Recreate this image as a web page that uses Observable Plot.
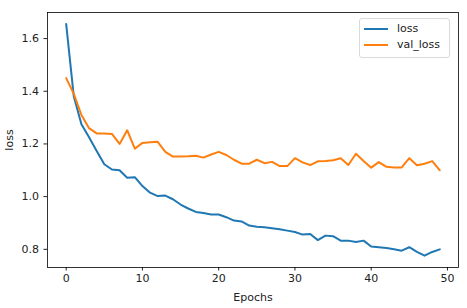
<!DOCTYPE html>
<html>
<head>
<meta charset="utf-8">
<script src="https://cdn.jsdelivr.net/npm/d3@7"></script>
<script src="https://cdn.jsdelivr.net/npm/@observablehq/plot@0.6"></script>
<style>
  html, body { margin: 0; padding: 0; background: #fff; }
  #wrap { position: relative; width: 467px; height: 308px; }
  #legend {
    position: absolute; left: 359px; top: 18px; width: 91px; height: 40px;
    box-sizing: border-box; border: 1px solid #d9d9d9; border-radius: 3px;
    background: rgba(255,255,255,0.8);
    font: 11px "DejaVu Sans", sans-serif; color: #222;
  }
  .item { position: absolute; left: 4px; display: flex; align-items: center; }
  .swatch { width: 24px; height: 0; border-top: 2px solid; margin-right: 9px; }
</style>
</head>
<body>
<div id="wrap"></div>
<script>
const epochs = d3.range(50);
const loss = [1.655, 1.38, 1.275, 1.225, 1.173, 1.123, 1.103, 1.10, 1.072, 1.074,
  1.04, 1.015, 1.002, 1.004, 0.99, 0.97, 0.955, 0.942, 0.938, 0.932,
  0.932, 0.922, 0.909, 0.906, 0.89, 0.886, 0.884, 0.88, 0.876, 0.871,
  0.866, 0.856, 0.858, 0.835, 0.852, 0.85, 0.833, 0.833, 0.828, 0.833,
  0.811, 0.808, 0.805, 0.80, 0.795, 0.808, 0.79, 0.776, 0.79, 0.80];
const valLoss = [1.45, 1.39, 1.31, 1.26, 1.24, 1.24, 1.238, 1.20, 1.252, 1.182,
  1.204, 1.206, 1.208, 1.17, 1.152, 1.152, 1.153, 1.155, 1.148, 1.16,
  1.17, 1.158, 1.14, 1.125, 1.125, 1.14, 1.127, 1.132, 1.116, 1.116,
  1.146, 1.13, 1.12, 1.134, 1.135, 1.138, 1.146, 1.12, 1.163, 1.135,
  1.11, 1.131, 1.113, 1.111, 1.111, 1.146, 1.119, 1.125, 1.135, 1.10];
const seriesNames = ["loss", "val_loss"];
const seriesColors = ["#1f77b4", "#ff7f0e"];
const xTicks = [0, 10, 20, 30, 40, 50];
const yTicks = [0.8, 1.0, 1.2, 1.4, 1.6];

const rows = [];
epochs.forEach((e, i) => {
  rows.push({epoch: e, value: loss[i], series: seriesNames[0]});
  rows.push({epoch: e, value: valLoss[i], series: seriesNames[1]});
});

const chart = Plot.plot({
  width: 467,
  height: 308,
  marginLeft: 47,
  marginRight: 9,
  marginTop: 12,
  marginBottom: 41,
  style: {fontFamily: "DejaVu Sans, sans-serif", fontSize: "11px", color: "#222", background: "#fff"},
  x: {domain: [-2.45, 51.45], ticks: xTicks, tickSize: 3.5, tickPadding: 3, label: "Epochs", labelArrow: "none", labelAnchor: "center", labelOffset: 33, tickFormat: d => String(d)},
  y: {domain: [0.731, 1.699], ticks: yTicks, tickSize: 3.5, tickPadding: 5, label: "loss", labelArrow: "none", labelAnchor: "center", labelOffset: 42, tickFormat: d3.format(".1f")},
  color: {domain: seriesNames, range: seriesColors},
  marks: [
    Plot.line(rows, {x: "epoch", y: "value", stroke: "series", strokeWidth: 2}),
    Plot.frame({stroke: "#000", strokeWidth: 0.8})
  ]
});
const wrap = document.getElementById("wrap");
wrap.appendChild(chart);

const legend = document.createElement("div");
legend.id = "legend";
seriesNames.forEach((name, i) => {
  const item = document.createElement("div");
  item.className = "item";
  item.style.top = (i === 0 ? 3 : 19) + "px";
  const sw = document.createElement("span");
  sw.className = "swatch";
  sw.style.borderColor = seriesColors[i];
  const t = document.createElement("span");
  t.textContent = name;
  item.appendChild(sw);
  item.appendChild(t);
  legend.appendChild(item);
});
wrap.appendChild(legend);
</script>
</body>
</html>
